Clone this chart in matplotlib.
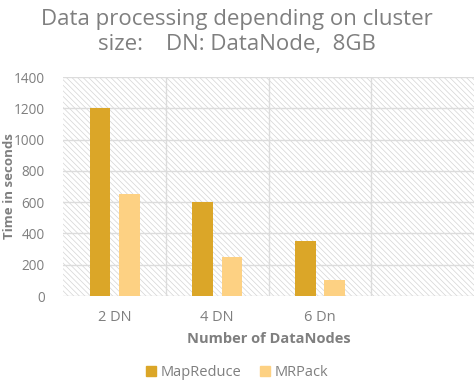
import numpy as np
import matplotlib.pyplot as plt
from matplotlib.patches import Rectangle
from matplotlib.lines import Line2D

categories = ['2 DN', '4 DN', '6 Dn', '']
mapreduce = [1200, 600, 350, np.nan]
mrpack = [650, 250, 100, np.nan]

gold = '#DBA628'
light = '#FDD183'
gray = '#7f7f7f'
plt.rcParams['font.family'] = ['Open Sans', 'DejaVu Sans']
plt.rcParams['hatch.linewidth'] = 0.5

fig = plt.figure(figsize=(4.74, 3.82), dpi=100)
ax = fig.add_axes([63 / 474, 1 - 296 / 382, 1 - 63 / 474, (296 - 77) / 382])

# hatched background
bg = Rectangle((0, 0), 1, 1, transform=ax.transAxes, facecolor='white',
               edgecolor='#d4d4d4', hatch='\\\\\\\\\\\\', linewidth=0, zorder=0)
ax.add_patch(bg)

x = np.arange(len(categories))
w = 0.2
ax.bar(x - 0.14, mapreduce, w, color=gold, zorder=3, label='MapReduce')
ax.bar(x + 0.145, mrpack, w, color=light, zorder=3, label='MRPack')

ax.set_xlim(-0.5, len(categories) - 0.5)
ax.set_ylim(0, 1400)
ax.set_yticks(range(0, 1401, 200))
ax.set_xticks(x)
ax.set_xticklabels(categories)
ax.set_xticks(x[:-1] + 0.5, minor=True)
ax.grid(axis='y', color='#dcdcdc', linewidth=1, zorder=1)
ax.grid(axis='x', which='minor', color='#dcdcdc', linewidth=1, zorder=1)
ax.tick_params(which='both', length=0, colors=gray, labelsize=10.5)
ax.tick_params(axis='x', pad=10)
ax.tick_params(axis='y', pad=13, labelsize=9.8)
for s in ax.spines.values():
    s.set_visible(False)

ax.set_ylabel('Time in seconds', color=gray, fontweight='bold', fontsize=9.5)
ax.yaxis.set_label_coords(-0.114, 0.5)
ax.set_xlabel('Number of DataNodes', color=gray, fontweight='bold', fontsize=10.5, labelpad=5)

fig.text(0.5, 1 - 32 / 382, 'Data processing depending on cluster\nsize:    DN: DataNode,  8GB',
         ha='center', va='center', color=gray, fontsize=16, linespacing=1.3)

handles = [Line2D([], [], marker='s', linestyle='', color=gold, markersize=6.5),
           Line2D([], [], marker='s', linestyle='', color=light, markersize=6.5)]
fig.legend(handles, ['MapReduce', 'MRPack'], loc='center', bbox_to_anchor=(0.5, 1 - 373 / 382),
           ncol=2, frameon=False, handlelength=0.7, handletextpad=0.3, columnspacing=1.3,
           prop={'size': 10.5}, labelcolor=gray)

fig.savefig('out.png', dpi=100)
